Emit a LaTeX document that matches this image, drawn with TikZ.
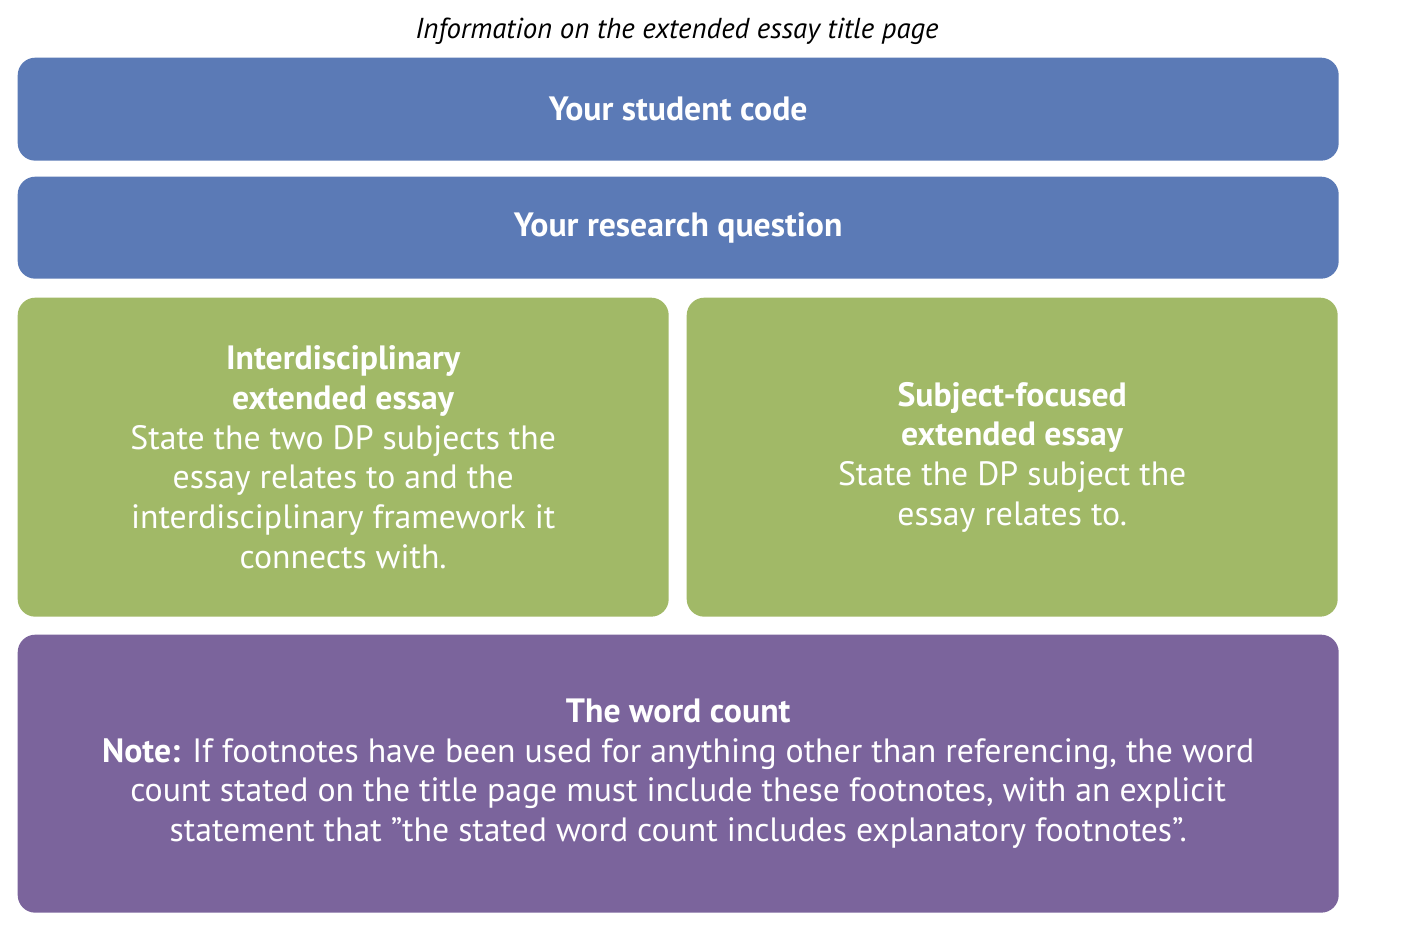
\documentclass[tikz,border=0pt]{standalone}
\usepackage{fontspec}
\setmainfont{PT Sans}
\usetikzlibrary{positioning}
\definecolor{boxblue}{RGB}{91,122,182}
\definecolor{boxgreen}{RGB}{161,185,103}
\definecolor{boxpurple}{RGB}{123,100,156}
\begin{document}
\begin{tikzpicture}[
    box/.style={rounded corners=5pt, text=white, align=center, font=\fontsize{9.6}{11.3}\selectfont, inner sep=0pt},
    wide/.style={box, minimum width=13.21cm},
    half/.style={box, minimum width=6.51cm, minimum height=3.19cm, fill=boxgreen}
]
    \useasboundingbox (0,0) rectangle (14.02,9.42);
    \node[font=\fontsize{8.2}{10}\selectfont\itshape] (title) at (6.77,9.11) {Information on the extended essay title page};
    \node[wide, minimum height=1.03cm, fill=boxblue, anchor=north west] (code) at (0.17,8.85) {\bfseries Your student code};
    \node[wide, minimum height=1.02cm, fill=boxblue, anchor=north west] (question) at (0.17,7.66) {\bfseries Your research question};
    \node[half, anchor=north west] (inter) at (0.17,6.45) {\textbf{Interdisciplinary}\\\textbf{extended essay}\\State the two DP subjects the\\essay relates to and the\\interdisciplinary framework it\\connects with.};
    \node[half, anchor=north west] (subject) at (6.86,6.45) {\textbf{Subject-focused}\\\textbf{extended essay}\\State the DP subject the\\essay relates to.};
    \node[wide, minimum height=2.78cm, fill=boxpurple, anchor=north west] (count) at (0.17,3.08) {\textbf{The word count}\\\textbf{Note:} If footnotes have been used for anything other than referencing, the word\\count stated on the title page must include these footnotes, with an explicit\\statement that \symbol{34}the stated word count includes explanatory footnotes\symbol{34}.};
\end{tikzpicture}
\end{document}
